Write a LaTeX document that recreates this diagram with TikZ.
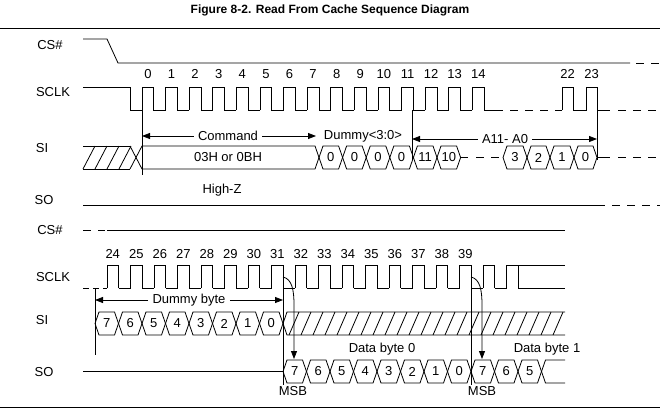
\documentclass[tikz,border=0pt]{standalone}
\usepackage{fontspec}
\setmainfont{Liberation Sans}
\usetikzlibrary{arrows.meta}
\begin{document}
\begin{tikzpicture}[x=1pt,y=-1pt,line width=0.8pt,
  lab/.style={inner sep=0pt,font=\fontsize{13}{13}\selectfont},
  arr/.style={-{Triangle[length=8pt,width=6pt]}},
  dsh/.style={dash pattern=on 8pt off 7pt}]
\useasboundingbox (0,0) rectangle (660,412);
\newcommand\hexa[4]{\draw (#1,#3) -- (#1+4,#3-11.5) -- (#2-4,#3-11.5) -- (#2,#3) -- (#2-4,#3+11.5) -- (#1+4,#3+11.5) -- cycle;
 \node[lab] at ({(#1+#2)/2},#3) {#4};}
\node[lab,font=\bfseries\fontsize{12}{12}\selectfont] (title) at (330,10) {Figure 8-2. Read From Cache Sequence Diagram};
\draw (0,28) -- (660,28);
\draw (0,407) -- (660,407);
% labels
\node[lab] (l1) at (50,45) {CS\#};
\node[lab] (l2) at (53,92) {SCLK};
\node[lab] (l3) at (42,148) {SI};
\node[lab] (l4) at (44,200) {SO};
\node[lab] (l5) at (50,230) {CS\#};
\node[lab] (l6) at (53,277) {SCLK};
\node[lab] (l7) at (42,320) {SI};
\node[lab] (l8) at (44,372) {SO};
% CS upper
\draw (83,39) -- (107,39) -- (118,63) -- (630,63);
\draw[dsh] (636,63) -- (660,63);
% SCLK upper
\draw (83,87) -- (130,87) -- (130,110) -- (142,110);
\foreach \k in {0,...,14}{
  \pgfmathsetmacro\r{142+23.6*\k}
  \draw (\r,110) -- (\r,87) -- (\r+11.8,87) -- (\r+11.8,110) -- (\r+23.6,110);
  \node[lab] at (\r+5.9,74) {\k};}
\draw[dsh] (495,110) -- (562,110);
\draw (562,110) -- (562,87) -- (573,87) -- (573,110) -- (586,110) -- (586,87) -- (597,87) -- (597,110) -- (610,110);
\node[lab] at (567.5,74) {22};
\node[lab] at (591.5,74) {23};
\draw[dsh] (618,110) -- (660,110);
% SI upper
\draw (83,146) -- (130,146) (83,169) -- (130,169);
\foreach \x in {83,95,...,120}{\draw (\x,169) -- (\x+12,146);}
\draw (130,146) -- (136,157.5) -- (130,169);
\draw (136,157.5) -- (142,146) -- (315,146) -- (319,157.5) -- (315,169) -- (142,169) -- cycle;
\node[lab] at (228,157.5) {03H or 0BH};
\hexa{319}{342.6}{157.5}{0}
\hexa{342.6}{366.2}{157.5}{0}
\hexa{366.2}{389.8}{157.5}{0}
\hexa{389.8}{413.4}{157.5}{0}
\hexa{413.4}{437}{157.5}{11}
\hexa{437}{460.6}{157.5}{10}
\draw (460.6,157.5) -- (468,157.5);
\draw[dsh] (476,157.5) -- (503,157.5);
\hexa{503}{527}{157.5}{3}
\hexa{527}{550}{157.5}{2}
\hexa{550}{574}{157.5}{1}
\hexa{574}{597}{157.5}{0}
\draw (597,157.5) -- (610,157.5);
\draw[dsh] (618,157.5) -- (660,157.5);
\draw (142,87) -- (142,175);
\draw (412,110) -- (412,160);
\draw (597,110) -- (597,160);
\node[lab] (cmd) at (228,136) {Command};
\draw[arr] (cmd.west) ++(-4,0) -- (142,136);
\draw[arr] (cmd.east) ++(4,0) -- (316,136);
\node[lab] (dum) at (363,136) {Dummy<3:0>};
\node[lab] (adr) at (505,139) {A11- A0};
\draw[arr] (adr.west) ++(-4,0) -- (412,139);
\draw[arr] (adr.east) ++(4,0) -- (597,139);
% SO upper
\node[lab] (hz) at (222,190) {High-Z};
\draw (83,205) -- (605,205);
\draw[dsh] (612,205) -- (660,205);
% lower CS
\draw[dsh] (83,230) -- (105,230);
\draw (107,230) -- (565,230);
% lower SCLK
\draw[dash pattern=on 6pt off 4pt] (83,288) -- (107,288);
\foreach \k in {24,...,41}{
  \pgfmathsetmacro\r{107+23.5*(\k-24)}
  \draw (\r,288) -- (\r,265) -- (\r+11.5,265) -- (\r+11.5,288);
  \ifnum\k<41 \draw (\r+11.5,288) -- (\r+23.5,288); \fi
  \ifnum\k<40 \node[lab] at (\r+5.75,254) {\k}; \fi}
\draw (518,265) -- (565,265) (518,288) -- (565,288);
% lower SI
\foreach \i/\b in {0/7,1/6,2/5,3/4,4/3,5/2,6/1,7/0}{
  \hexa{95+23.5*\i}{118.5+23.5*\i}{323.5}{\b}}
\draw (565,312) -- (287,312) -- (283,323.5) -- (287,335) -- (565,335);
\foreach \x in {289,301,...,555}{\draw (\x,335) -- (\x+10,312);}
\draw (95,288) -- (95,355);
\node[lab] (db) at (189,300) {Dummy byte};
\draw[arr] (db.west) ++(-4,0) -- (95,300);
\draw[arr] (db.east) ++(4,0) -- (283,300);
% lower SO
\draw (83,371.5) -- (283,371.5);
\foreach \i/\b in {0/7,1/6,2/5,3/4,4/3,5/2,6/1,7/0,8/7,9/6,10/5}{
  \hexa{283+23.5*\i}{306.5+23.5*\i}{371.5}{\b}}
\draw (541.5,371.5) -- (545.5,360) -- (565,360) (541.5,371.5) -- (545.5,383) -- (565,383);
\node[lab] (d0) at (382,349) {Data byte 0};
\node[lab] (d1) at (547,349) {Data byte 1};
\draw (283,277) -- (283,385);
\draw (471,277) -- (471,385);
\node[lab] (m1) at (293,391) {MSB};
\node[lab] (m2) at (482,391) {MSB};
\draw[arr] (283,277) .. controls (292,279) and (294,290) .. (294,305) -- (294,359);
\draw[arr] (471,277) .. controls (480,279) and (482,290) .. (482,305) -- (482,359);
\end{tikzpicture}
\end{document}
